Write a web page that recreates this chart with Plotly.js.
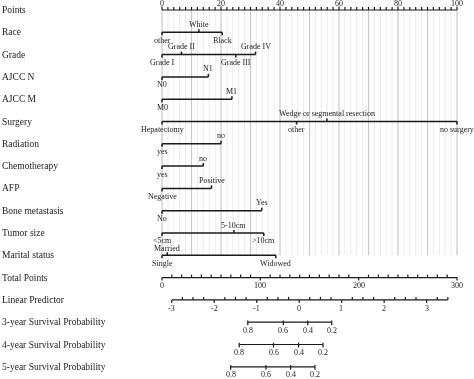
<!DOCTYPE html>
<html><head><meta charset="utf-8">
<script src="https://cdn.plot.ly/plotly-3.0.1.min.js"></script>
<style>html,body{margin:0;padding:0;background:#fff}#chart{width:474px;height:379px;filter:grayscale(1)}</style>
</head><body><div id="chart"></div>
<script>
// ---------- data ----------
const rowLabels = ["Points","Race","Grade","AJCC N","AJCC M","Surgery","Radiation","Chemotherapy","AFP","Bone metastasis","Tumor size","Marital status","Total Points","Linear Predictor","3-year Survival Probability","4-year Survival Probability","5-year Survival Probability"];

const pointsTickLabels = [0,20,40,60,80,100];
const totalPointsTickLabels = [0,100,200,300];

const raceLevels = ["other","White","Black"];            const racePoints = [0,12.5,20.4];        const raceSide = ["below","above","below"];
const gradeLevels = ["Grade I","Grade II","Grade III","Grade IV"]; const gradePoints = [0,6.6,25,31.7]; const gradeSide = ["below","above","below","above"];
const nLevels = ["N0","N1"];                              const nPoints = [0,15.7];                const nSide = ["below","above"];
const mLevels = ["M0","M1"];                              const mPoints = [0,23.7];                const mSide = ["below","above"];
const surgeryLevels = ["Hepatectomy","other","Wedge or segmental resection","no surgery"]; const surgeryPoints = [0,45.6,55.9,100]; const surgerySide = ["below","below","above","below"];
const radiationLevels = ["yes","no"];                     const radiationPoints = [0,20];          const radiationSide = ["below","above"];
const chemoLevels = ["yes","no"];                         const chemoPoints = [0,14];              const chemoSide = ["below","above"];
const afpLevels = ["Negative","Positive"];                const afpPoints = [0,16.8];              const afpSide = ["below","above"];
const boneLevels = ["No","Yes"];                          const bonePoints = [0,33.8];             const boneSide = ["below","above"];
const tumorLevels = ["<5cm","5-10cm",">10cm"];            const tumorPoints = [0,24.4,34.5];       const tumorSide = ["below","above","below"];
const maritalLevels = ["Single","Married","Widowed"];     const maritalPoints = [0,1.8,38.6];      const maritalSide = ["below","above","below"];

// linear predictor: labelled values and their position in total points
const lpLabels = [-3,-2,-1,0,1,2,3];
const lpTotalPoints = [9.9,53.2,96.3,139.4,182.1,225.8,269.1];
const lpEnd = 3.5;

// survival probability scales: labelled values and positions in total points
const survLabels = ["0.8","0.6","0.4","0.2"];
const surv3TotalPoints = [87.2,123.4,148.2,172.6];
const surv4TotalPoints = [78.5,113.4,138.9,163.7];
const surv5TotalPoints = [69.8,105.7,130.8,155.5];

// ---------- drawing ----------
const FONT = "Liberation Serif";
const INK = "#1a1a1a";
const ROW_PX = 22.3;
const TL = 3 / ROW_PX; // tick length in row units
const traces = [];
const annotations = [];

function segTrace(xs, ys, color, width, xaxis) {
  traces.push({type:"scatter", mode:"lines", x:xs, y:ys, xaxis:xaxis||"x", yaxis:"y",
    line:{color:color, width:width}, hoverinfo:"skip", showlegend:false, connectgaps:false});
}
function label(x, y, text, side, xref, size, shift) {
  const s = shift || 8;
  annotations.push({x:x, y:y, xref:xref||"x", yref:"y", text:text, showarrow:false,
    xanchor:"center", yanchor:"middle", yshift: side==="above" ? s : -s,
    font:{family:FONT, size:size||8, color:INK}});
}

// row labels
rowLabels.forEach((t,i)=>annotations.push({x:0, y:i, xref:"paper", yref:"y", text:t, showarrow:false,
  xanchor:"left", yanchor:"middle", xshift:0, font:{family:FONT, size:9.5, color:INK}}));

// grid lines (points scale)
const gMinX=[], gMinY=[], gMajX=[], gMajY=[];
for (let p=0; p<=100; p+=2) {
  if (p%10===0) { gMajX.push(p,p,null); gMajY.push(0,11,null); }
  else { gMinX.push(p,p,null); gMinY.push(0,11,null); }
}
segTrace(gMinX, gMinY, "#e6e6e6", 0.8);
segTrace(gMajX, gMajY, "#c8c8c8", 1.2);

// Points axis
{
  const xs=[0,100,null], ys=[0,0,null];
  for (let p=0; p<=100; p+=2) { const major = pointsTickLabels.includes(p); xs.push(p,p,null); ys.push(0, -(major?TL*1.2:TL), null); }
  segTrace(xs, ys, INK, 1.2);
  pointsTickLabels.forEach(p=>label(p, 0, String(p), "above", "x", 8, 6.5));
}

// variables
const vars = [
  [raceLevels, racePoints, raceSide],
  [gradeLevels, gradePoints, gradeSide],
  [nLevels, nPoints, nSide],
  [mLevels, mPoints, mSide],
  [surgeryLevels, surgeryPoints, surgerySide],
  [radiationLevels, radiationPoints, radiationSide],
  [chemoLevels, chemoPoints, chemoSide],
  [afpLevels, afpPoints, afpSide],
  [boneLevels, bonePoints, boneSide],
  [tumorLevels, tumorPoints, tumorSide],
  [maritalLevels, maritalPoints, maritalSide]
];
vars.forEach(([lv, pts, side], k) => {
  const row = k+1;
  const xs=[Math.min(...pts), Math.max(...pts), null], ys=[row,row,null];
  pts.forEach((p,i)=>{ xs.push(p,p,null); ys.push(row, side[i]==="above" ? row-TL : row+TL, null); });
  segTrace(xs, ys, INK, 1.5);
  lv.forEach((t,i)=>label(pts[i], row, t, side[i], "x", 8, (row===10 && side[i]==="below") || (row===11 && side[i]==="above") ? 7 : 8));
});

// Total Points axis (x2)
{
  const row=12, xs=[0,300,null], ys=[row,row,null];
  for (let p=0; p<=300; p+=10) { const major = totalPointsTickLabels.includes(p); xs.push(p,p,null); ys.push(row, major? row+TL : row-TL, null); }
  segTrace(xs, ys, INK, 1.2, "x2");
  totalPointsTickLabels.forEach(p=>label(p, row, String(p), "below", "x2", 8));
}

// Linear Predictor axis (x2); minor ticks every 0.25 between labelled values
{
  const row=13;
  const slope = (lpTotalPoints[lpTotalPoints.length-1]-lpTotalPoints[0])/(lpLabels[lpLabels.length-1]-lpLabels[0]);
  const toTP = v => lpTotalPoints[0] + (v - lpLabels[0])*slope;
  const xs=[toTP(lpLabels[0]), toTP(lpEnd), null], ys=[row,row,null];
  for (let v=lpLabels[0]; v<=lpEnd+1e-9; v+=0.25) {
    const major = Math.abs(v-Math.round(v))<1e-9;
    xs.push(toTP(v),toTP(v),null); ys.push(row, major? row+TL : row-TL, null);
  }
  segTrace(xs, ys, INK, 1.2, "x2");
  lpLabels.forEach((v,i)=>label(lpTotalPoints[i], row, String(v), "below", "x2", 8, 8.5));
}

// Survival probability axes
[[14, surv3TotalPoints],[15, surv4TotalPoints],[16, surv5TotalPoints]].forEach(([row, tp])=>{
  const xs=[tp[0], tp[tp.length-1], null], ys=[row,row,null];
  tp.forEach(p=>{ xs.push(p,p,null); ys.push(row, row+TL, null); xs.push(p,p,null); ys.push(row,row-TL*0.6,null); });
  segTrace(xs, ys, INK, 1.2, "x2");
  survLabels.forEach((t,i)=>label(tp[i], row, t, "below", "x2", 8));
});

const layout = {
  width:474, height:379, margin:{l:0,r:0,t:0,b:0}, paper_bgcolor:"#fff", plot_bgcolor:"#fff",
  showlegend:false,
  xaxis:{range:[-54.92,105.76], visible:false, fixedrange:true},
  xaxis2:{range:[-164.76,317.28], visible:false, overlaying:"x", anchor:"y", fixedrange:true},
  yaxis:{range:[(379-10)/ROW_PX, -10/ROW_PX], visible:false, fixedrange:true},
  annotations:annotations
};
Plotly.newPlot("chart", traces, layout, {staticPlot:true, displayModeBar:false});
</script></body></html>
